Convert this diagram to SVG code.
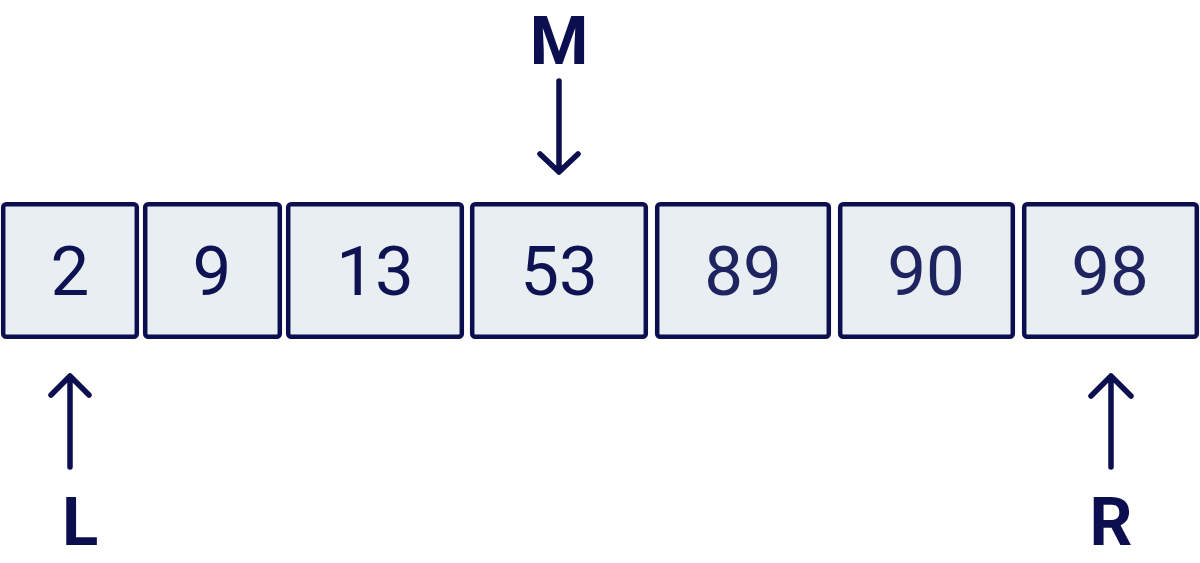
<svg xmlns="http://www.w3.org/2000/svg" width="1200" height="563" viewBox="0 0 1200 563">
<style>
.cell{fill:#e9eef2;stroke:#0b0f4f;stroke-width:4.5;}
.num{font-family:Roboto,"Liberation Sans",sans-serif;font-size:69px;fill:#0d1252;text-anchor:middle;}
.lbl{font-family:Roboto,"Liberation Sans",sans-serif;font-weight:bold;font-size:67px;fill:#0b0f4f;text-anchor:middle;}
.arr{fill:none;stroke:#0b0f4f;stroke-width:5.5;stroke-linecap:round;stroke-linejoin:round;}
</style>
<rect width="1200" height="563" fill="#ffffff"/>
<g id="cell-0"><rect class="cell" x="3.2" y="204.2" width="133.6" height="132.6" rx="3"/><text class="num" x="70" y="295">2</text></g>
<g id="cell-1"><rect class="cell" x="145.2" y="204.2" width="134.6" height="132.6" rx="3"/><text class="num" x="212" y="295">9</text></g>
<g id="cell-2"><rect class="cell" x="288.2" y="204.2" width="173.6" height="132.6" rx="3"/><text class="num" x="375" y="295">13</text></g>
<g id="cell-3"><rect class="cell" x="472.2" y="204.2" width="173.6" height="132.6" rx="3"/><text class="num" x="559" y="295">53</text></g>
<g id="cell-4"><rect class="cell" x="657.2" y="204.2" width="171.6" height="132.6" rx="3"/><text class="num" x="743" y="295" style="fill:#1e2460">89</text></g>
<g id="cell-5"><rect class="cell" x="840.2" y="204.2" width="172.6" height="132.6" rx="3"/><text class="num" x="926" y="295" style="fill:#1e2460">90</text></g>
<g id="cell-6"><rect class="cell" x="1024.2" y="204.2" width="172.6" height="132.6" rx="3"/><text class="num" x="1110" y="295" style="fill:#1e2460">98</text></g>
<g id="label-M"><text class="lbl" x="559" y="64">M</text></g>
<g id="label-L"><text class="lbl" x="80" y="545">L</text></g>
<g id="label-R"><text class="lbl" x="1111" y="545">R</text></g>
<g id="connectors">
<path class="arr" d="M559 81 V172 M540 154 L559 172 L578 154"/>
<path class="arr" d="M70 467 V376 M51 395 L70 376 L89 395"/>
<path class="arr" d="M1111 467 V376 M1091 396 L1111 376 L1131 396"/>
</g>
</svg>
